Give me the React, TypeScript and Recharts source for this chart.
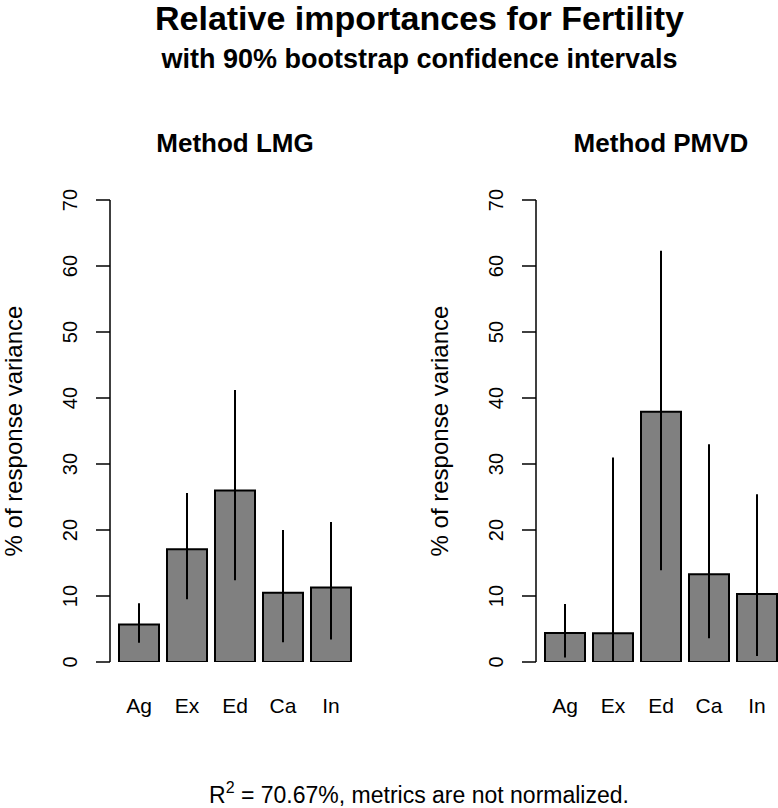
import React from "react";
import { BarChart, Bar, XAxis, YAxis, ErrorBar } from "recharts";

const categories = ["Ag", "Ex", "Ed", "Ca", "In"];

const lmgValues = [5.7, 17.1, 26.0, 10.5, 11.3];
const lmgLower = [2.9, 9.5, 12.4, 3.0, 3.4];
const lmgUpper = [8.9, 25.6, 41.2, 20.0, 21.2];

const pmvdValues = [4.4, 4.35, 37.9, 13.3, 10.3];
const pmvdLower = [0.7, 0.0, 13.9, 3.6, 0.9];
const pmvdUpper = [8.8, 31.0, 62.3, 33.0, 25.4];

const yTicks = [0, 10, 20, 30, 40, 50, 60, 70];

const FONT = '"Liberation Sans", Arial, Helvetica, sans-serif';

function buildRows(values: number[], lower: number[], upper: number[]) {
  return categories.map((name, i) => ({
    name,
    value: values[i],
    err: [values[i] - lower[i], upper[i] - values[i]],
  }));
}

const lmgData = buildRows(lmgValues, lmgLower, lmgUpper);
const pmvdData = buildRows(pmvdValues, pmvdLower, pmvdUpper);

const YTick = (props: any) => {
  const { y, payload } = props;
  return (
    <text
      transform={`translate(77,${y}) rotate(-90)`}
      textAnchor="middle"
      fontSize={20}
      fontFamily={FONT}
      fill="#000"
    >
      {payload.value}
    </text>
  );
};

const XTick = (props: any) => {
  const { x, payload } = props;
  return (
    <text x={x} y={713} textAnchor="middle" fontSize={21} fontFamily={FONT} fill="#000">
      {payload.value}
    </text>
  );
};

const YLabel = () => (
  <text
    transform="translate(22,431) rotate(-90)"
    textAnchor="middle"
    fontSize={24}
    fontFamily={FONT}
    fill="#000"
  >
    % of response variance
  </text>
);

function Panel({ data, left }: { data: any[]; left: number }) {
  return (
    <div style={{ position: "absolute", left, top: 0 }}>
      <BarChart
        width={400}
        height={808}
        data={data}
        margin={{ top: 200, right: 40, bottom: 116, left: 0 }}
      >
        <XAxis
          dataKey="name"
          axisLine={false}
          tickLine={false}
          height={30}
          padding={{ left: 5, right: 5 }}
          tick={<XTick />}
          interval={0}
        />
        <YAxis
          width={110}
          domain={[0, 70]}
          ticks={yTicks}
          allowDataOverflow
          tickSize={14}
          axisLine={{ stroke: "#000", strokeWidth: 1.5 }}
          tickLine={{ stroke: "#000", strokeWidth: 1.5 }}
          tick={<YTick />}
          label={<YLabel />}
        />
        <Bar
          dataKey="value"
          fill="#808080"
          stroke="#000"
          strokeWidth={2}
          barSize={40}
          isAnimationActive={false}
        >
          <ErrorBar
            dataKey="err"
            width={0}
            stroke="#000"
            strokeWidth={2}
            direction="y"
            isAnimationActive={false}
          />
        </Bar>
      </BarChart>
    </div>
  );
}

export default function App() {
  return (
    <div
      style={{
        position: "absolute",
        left: 0,
        top: 0,
        width: 778,
        height: 808,
        overflow: "hidden",
        background: "#fff",
        fontFamily: FONT,
      }}
    >
      <Panel data={lmgData} left={0} />
      <Panel data={pmvdData} left={426} />
      <svg
        width={778}
        height={808}
        style={{ position: "absolute", left: 0, top: 0, pointerEvents: "none" }}
        fontFamily={FONT}
      >
        <text x={419.5} y={30} textAnchor="middle" fontSize={34} fontWeight="bold">
          Relative importances for Fertility
        </text>
        <text x={419.5} y={68} textAnchor="middle" fontSize={27} fontWeight="bold">
          with 90% bootstrap confidence intervals
        </text>
        <text x={235} y={152} textAnchor="middle" fontSize={26} fontWeight="bold">
          Method LMG
        </text>
        <text x={661} y={152} textAnchor="middle" fontSize={26} fontWeight="bold">
          Method PMVD
        </text>
        <text x={419} y={803} textAnchor="middle" fontSize={23}>
          <tspan>R</tspan>
          <tspan dy={-10} fontSize={16}>2</tspan>
          <tspan dy={10}> = 70.67%, metrics are not normalized.</tspan>
        </text>
      </svg>
    </div>
  );
}
